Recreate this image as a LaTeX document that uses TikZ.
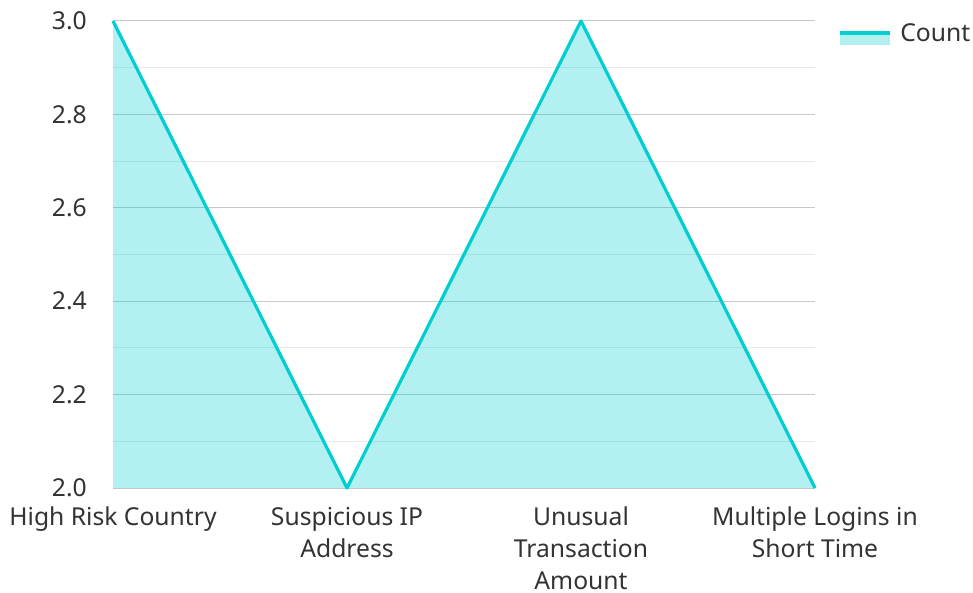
\documentclass[tikz,border=0pt]{standalone}
\usepackage{fontspec}
\setmainfont{Noto Sans}
\definecolor{teal1}{HTML}{00CED1}
\definecolor{fillc}{HTML}{B2EFEF}
\definecolor{gridmaj}{HTML}{C8C8C8}
\definecolor{gridmin}{HTML}{E8E8E8}
\definecolor{txt}{HTML}{333333}
\tikzset{
  ticklab/.style={anchor=east,inner sep=0pt,text=txt,font=\fontsize{18.5}{24}\selectfont},
  catlab/.style={anchor=base,align=center,inner sep=0pt,text=txt,font=\fontsize{18.5}{24}\selectfont},
  majgrid/.style={draw=gridmaj,line width=0.75pt},
  mingrid/.style={draw=gridmin,line width=0.75pt},
  series/.style={draw=teal1,line width=2.4pt,line join=round},
  area/.style={fill=teal1,fill opacity=0.3},
}
\begin{document}
\begin{tikzpicture}[x=0.75pt,y=-0.75pt]
\useasboundingbox (0,0) rectangle (973,592);
% grid
\foreach \i in {1,3,5,7,9} {
  \draw[mingrid] (113,{21+46.7*\i}) -- (815,{21+46.7*\i});
}
\foreach \i in {0,2,4,6,8} {
  \draw[majgrid] (113,{21+46.7*\i}) -- (815,{21+46.7*\i});
}
\draw[majgrid] (113,488) -- (815,488);
% tick labels
\node[ticklab] (t30) at (87,21) {3.0};
\node[ticklab] (t28) at (87,114.4) {2.8};
\node[ticklab] (t26) at (87,207.8) {2.6};
\node[ticklab] (t24) at (87,301.2) {2.4};
\node[ticklab] (t22) at (87,394.6) {2.2};
\node[ticklab] (t20) at (87,488) {2.0};
% data
\coordinate (p1) at (113,21);
\coordinate (p2) at (347,488);
\coordinate (p3) at (581,21);
\coordinate (p4) at (815,488);
\coordinate (b1) at (113,488);
\coordinate (b4) at (815,488);
\fill[area] (p1) -- (p2) -- (p3) -- (p4) -- (b4) -- (b1) -- cycle;
\draw[series] (p1) -- (p2) -- (p3) -- (p4);
% category labels (anchor = baseline of last line)
\node[catlab] (c1) at (113,525) {High Risk Country};
\node[catlab] (c2) at (347,557) {Suspicious IP\\Address};
\node[catlab] (c3) at (581,589) {Unusual\\Transaction\\Amount};
\node[catlab] (c4) at (815,557) {Multiple Logins in\\Short Time};
% legend
\fill[fillc] (840,31) rectangle (890,45);
\draw[teal1,line width=3pt] (840,33) -- (890,33);
\node[anchor=west,inner sep=0pt,text=txt,font=\fontsize{18.5}{24}\selectfont] (leg) at (900,33) {Count};
\end{tikzpicture}
\end{document}
